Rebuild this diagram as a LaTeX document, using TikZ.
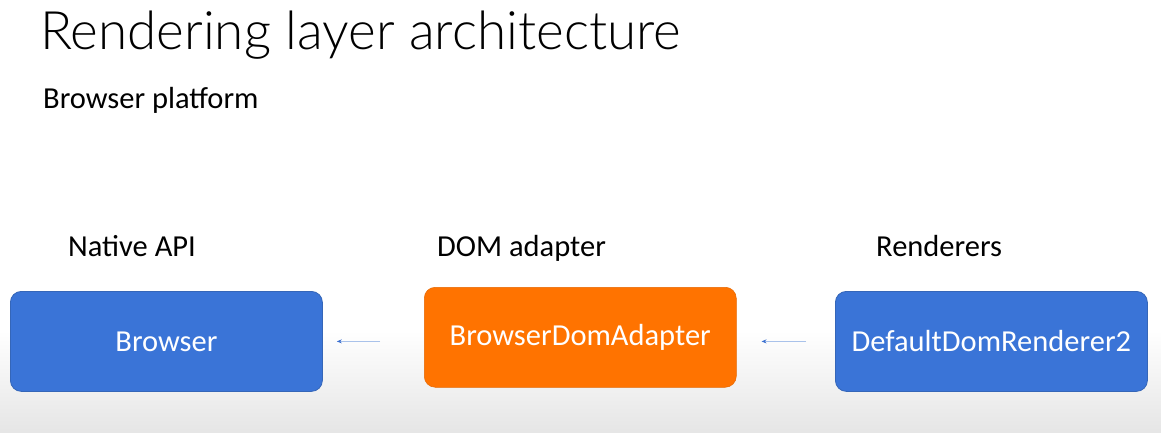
\documentclass[tikz,border=0pt]{standalone}
\usepackage{fontspec}
\setmainfont{Carlito}
\newfontfamily\lightfont{Lato Light}
\usetikzlibrary{arrows.meta,calc}
\definecolor{boxblue}{HTML}{3A74D7}
\definecolor{boxblueedge}{HTML}{3566B8}
\definecolor{boxorange}{HTML}{FF7300}
\definecolor{arrline}{HTML}{A9C2EA}
\definecolor{arrhead}{HTML}{3A6FD0}
\tikzset{
  x=1pt,y=-1pt,
  box/.style={rounded corners=11pt,minimum width=312pt,minimum height=100pt,inner sep=0pt,
    text=white,font=\fontsize{30.5}{36}\selectfont,anchor=north west},
  bluebox/.style={box,fill=boxblue,draw=boxblueedge,line width=0.8pt},
  orangebox/.style={box,fill=boxorange,draw=boxorange!90!black,line width=0.5pt},
  header/.style={font=\fontsize{30.5}{36}\selectfont,anchor=base west,inner sep=0pt},
  conn/.style={draw=arrline,line width=1pt,-{Stealth[length=5pt,width=4pt,color=arrhead]}},
}
\begin{document}
\begin{tikzpicture}
\useasboundingbox (0,0) rectangle (1161,433);
\fill[white] (0,0) rectangle (1161,433);
\shade[top color=white,bottom color=black!10] (0,330) rectangle (1161,433);
\node[anchor=base west,inner sep=0pt,font=\lightfont\fontsize{53}{60}\selectfont] (title) at (40,50) {Rendering layer architecture};
\node[header] (sub) at (43,109) {Browser platform};
\node[header] (h1) at (68,256) {Native API};
\node[header] (h2) at (437,256) {DOM adapter};
\node[header] (h3) at (876,256) {Renderers};
\node[bluebox] (browser) at (10,291) {Browser};
\node[orangebox] (adapter) at (424,287) {BrowserDomAdapter};
\node[bluebox] (renderer) at (835,291) {DefaultDomRenderer2};
\draw[conn,shorten <=44pt,shorten >=14pt] (adapter.west |- browser.east) -- (browser.east);
\draw[conn,shorten <=29pt,shorten >=25pt] (renderer.west) -- (adapter.east |- renderer.west);
\end{tikzpicture}
\end{document}
